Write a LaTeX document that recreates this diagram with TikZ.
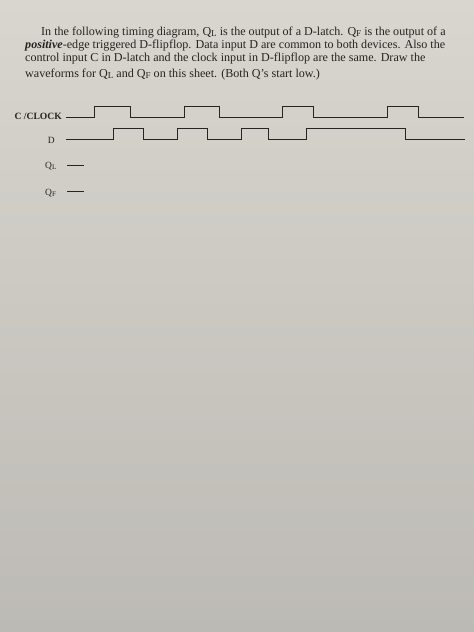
\documentclass[tikz,border=0pt]{standalone}
\usepackage{fontspec}
\setmainfont{Liberation Serif}
\usepackage{tikz}
\definecolor{paper}{RGB}{216,214,207}
\definecolor{paperdark}{RGB}{188,186,180}
\definecolor{ink}{RGB}{38,36,34}
\tikzset{
  wave/.style={line width=0.9pt, draw=ink},
  sig/.style={inner sep=0pt, text=ink, font=\fontsize{9.5}{11}\selectfont},
  para/.style={inner sep=0pt, text=ink, font=\fontsize{12.1}{13}\selectfont, anchor=base west}
}
\newcommand{\qsub}[1]{Q\raisebox{-0.3ex}{\fontsize{0.75em}{1em}\selectfont #1}}
\begin{document}
\begin{tikzpicture}[x=1pt, y=-1pt]
			%%%%% START %%%%%
			
			\useasboundingbox (0, 0) rectangle (474, 632);
			\shade[top color=paper, bottom color=paperdark] (0, 0) rectangle (474, 632);
			
			% question text
			\node[para] (line1) at (41, 35) {In the following timing diagram, \qsub{L} is the output of a D-latch. \qsub{F} is the output of a};
			\node[para] (line2) at (25, 48) {\textbf{\textit{positive}}-edge triggered D-flipflop. Data input D are common to both devices. Also the};
			\node[para] (line3) at (25, 61) {control input C in D-latch and the clock input in D-flipflop are the same. Draw the};
			\node[para] (line4) at (25, 77) {waveforms for \qsub{L} and \qsub{F} on this sheet. (Both Q's start low.)};
			
			% signal names
			\node[sig, anchor=east, font=\fontsize{9.6}{11}\selectfont\bfseries] (clk) at (62, 116) {C /CLOCK};
			\node[sig, anchor=east] (d) at (55, 140) {D};
			\node[sig, anchor=west] (ql) at (45, 166) {\qsub{L}};
			\node[sig, anchor=west] (qf) at (45, 193) {\qsub{F}};
			
			% clock
			\draw[wave] (66, 117) -- (94, 117) -- (94, 106) -- (130, 106) -- (130, 117)
			  -- (184, 117) -- (184, 106) -- (219, 106) -- (219, 117)
			  -- (282, 117) -- (282, 106) -- (313, 106) -- (313, 117)
			  -- (387, 117) -- (387, 106) -- (418, 106) -- (418, 117) -- (464, 117);
			
			% data
			\draw[wave] (66, 139) -- (113, 139) -- (113, 128) -- (143, 128) -- (143, 139)
			  -- (177, 139) -- (177, 128) -- (207, 128) -- (207, 139)
			  -- (241, 139) -- (241, 128) -- (268, 128) -- (268, 139)
			  -- (306, 139) -- (306, 128) -- (405, 128) -- (405, 139) -- (465, 139);
			
			% outputs start low
			\draw[wave] (67, 165) -- (84, 165);
			\draw[wave] (67, 191) -- (84, 191);
			
			%%%%% END %%%%%
\end{tikzpicture}
\end{document}
